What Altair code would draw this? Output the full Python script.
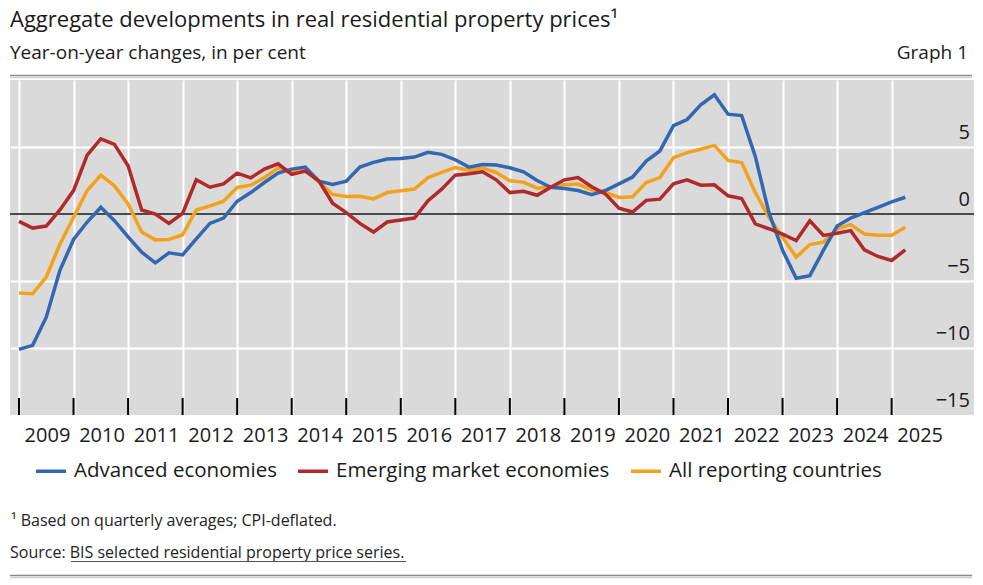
import altair as alt
import pandas as pd

# ---------------- data ----------------
first_year = 2009
series_names = ["Advanced economies", "Emerging market economies", "All reporting countries"]
series_colors = ["#3467b1", "#b0292b", "#f2a21d"]

advanced = [-10.1, -9.8, -7.7, -4.2, -1.9, -0.6, 0.5, -0.5, -1.7, -2.85, -3.65, -2.9, -3.05, -1.85,
            -0.7, -0.3, 0.95, 1.6, 2.35, 3.05, 3.35, 3.5, 2.45, 2.2, 2.45, 3.5, 3.85, 4.1, 4.15,
            4.25, 4.6, 4.45, 4.05, 3.5, 3.7, 3.65, 3.45, 3.15, 2.5, 2.0, 1.9, 1.75, 1.45, 1.75,
            2.25, 2.75, 3.95, 4.7, 6.6, 7.05, 8.15, 8.9, 7.45, 7.35, 4.3, 0.1, -2.7, -4.8, -4.6,
            -2.7, -0.9, -0.3, 0.1, 0.5, 0.9, 1.25]
emerging = [-0.55, -1.05, -0.9, 0.3, 1.75, 4.4, 5.6, 5.2, 3.6, 0.3, 0.0, -0.7, 0.05, 2.55,
            2.0, 2.25, 3.05, 2.7, 3.35, 3.75, 2.95, 3.2, 2.45, 0.8, 0.1, -0.7, -1.35, -0.6, -0.45,
            -0.3, 1.0, 1.85, 2.9, 3.0, 3.15, 2.55, 1.6, 1.7, 1.4, 2.0, 2.55, 2.72, 2.03, 1.5,
            0.44, 0.15, 1.02, 1.11, 2.25, 2.55, 2.15, 2.18, 1.36, 1.16, -0.74, -1.1, -1.5, -1.98,
            -0.5, -1.6, -1.44, -1.24, -2.67, -3.17, -3.47, -2.67]
all_reporting = [-5.9, -5.95, -4.7, -2.25, -0.25, 1.75, 2.9, 2.1, 0.75, -1.35, -1.93, -1.9, -1.55,
                 0.3, 0.6, 0.95, 1.98, 2.15, 2.72, 3.42, 3.2, 3.3, 2.4, 1.46, 1.3, 1.33, 1.13, 1.6,
                 1.73, 1.86, 2.72, 3.1, 3.47, 3.27, 3.42, 3.1, 2.48, 2.38, 1.93, 2.03, 2.18, 2.23,
                 1.8, 1.6, 1.24, 1.29, 2.35, 2.72, 4.2, 4.58, 4.83, 5.12, 4.0, 3.84, 1.6, -0.25,
                 -1.73, -3.22, -2.28, -2.1, -1.11, -0.79, -1.49, -1.58, -1.58, -0.99]

year_ticks = list(range(2009, 2026))
y_grid_values = [-10, -5, 5]
y_label_values = [5, 0, -5, -10, -15]
y_label_texts = ["5", "0", "\u22125", "\u221210", "\u221215"]

title_text = "Aggregate developments in real residential property prices\u00b9"
subtitle_text = "Year-on-year changes, in per cent"
graph_no = "Graph 1"
footnote_text = "\u00b9 Based on quarterly averages; CPI-deflated."
source_prefix = "Source: "
source_link = "BIS selected residential property price series."

# ---------------- build tables ----------------
quarter_pos = [first_year + i / 4 for i in range(len(advanced))]
rows = []
for name, vals in zip(series_names, [advanced, emerging, all_reporting]):
    for t, v in zip(quarter_pos, vals):
        rows.append({"t": t, "v": v, "series": name})
df = pd.DataFrame(rows)
df_years = pd.DataFrame({"t": year_ticks})
df_ylab = pd.DataFrame({"v": y_label_values, "lab": y_label_texts})
df_zero = pd.DataFrame({"v": [0]})
one = pd.DataFrame({"a": [0]})

W, H = 964, 335
FONT = "Open Sans"
TXT = "#1a1a1a"

x_scale = alt.Scale(domain=[2008.835, 2026.51], nice=False, zero=False)
y_scale = alt.Scale(domain=[-15, 10], nice=False, zero=False)

x_enc = alt.X("t:Q", scale=x_scale, axis=alt.Axis(
    values=year_ticks, format="d", grid=True, gridColor="white", gridWidth=2,
    ticks=False, tickSize=0, domain=False, labelOffset=28, labelPadding=10,
    labelFontSize=20, labelFont=FONT, labelColor=TXT, title=None,
    labelFlush=False, labelOverlap=False))
y_enc = alt.Y("v:Q", scale=y_scale, axis=alt.Axis(
    values=y_grid_values, grid=True, gridColor="white", gridWidth=2,
    labels=False, ticks=False, domain=False, title=None))

color_enc = alt.Color("series:N", scale=alt.Scale(domain=series_names, range=series_colors),
                      legend=alt.Legend(orient="none", legendX=24, legendY=374,
                                        direction="horizontal", title=None,
                                        symbolType="stroke", symbolSize=900,
                                        symbolStrokeWidth=3.5, labelFontSize=20.5,
                                        labelFont=FONT, labelColor=TXT, columnPadding=14,
                                        labelOffset=6, padding=0, labelLimit=400))

base = alt.Chart(df).encode(x=x_enc, y=y_enc, color=color_enc)

def line_for(name):
    return base.transform_filter(alt.datum.series == name).mark_line(strokeWidth=3.5)

zero = alt.Chart(df_zero).mark_rule(color="#4a4a4a", strokeWidth=2).encode(y=alt.Y("v:Q", scale=y_scale))
ticks = alt.Chart(df_years).mark_rule(color="black", strokeWidth=2).encode(
    x=alt.X("t:Q", scale=x_scale), y=alt.value(H - 17), y2=alt.value(H))
ylabels = alt.Chart(df_ylab).mark_text(align="right", baseline="alphabetic", dy=-8,
                                       fontSize=20, font=FONT, color=TXT).encode(
    y=alt.Y("v:Q", scale=y_scale), x=alt.value(960), text="lab:N")

def txt(s, x, y, size, align="left", color=TXT):
    return alt.Chart(one).mark_text(text=s, align=align, baseline="alphabetic",
                                    fontSize=size, font=FONT, color=color).encode(
        x=alt.value(x), y=alt.value(y))

def hline(x1, x2, y, color, w):
    return alt.Chart(one).mark_rule(color=color, strokeWidth=w).encode(
        x=alt.value(x1), x2=alt.value(x2), y=alt.value(y))

title = txt(title_text, 0, -53, 22)
subtitle = txt(subtitle_text, 0, -21, 19)
graph = txt(graph_no, 958, -21, 19, align="right")
foot = txt(footnote_text, 1, 446, 16, color="#222222")
source = txt(source_prefix + source_link, 0, 478, 16, color="#222222")
underline = hline(61, 396, 481.5, "#555555", 1)
top1 = hline(0, 962, -4.5, "#8a8a8a", 1.5)
top2 = hline(0, 962, -2.5, "#cfcfcf", 1.5)
bot1 = hline(0, 962, 495.5, "#8a8a8a", 1.5)
bot2 = hline(0, 962, 497.5, "#cfcfcf", 1.5)

chart = alt.layer(
    zero, ticks,
    line_for("All reporting countries"),
    line_for("Advanced economies"),
    line_for("Emerging market economies"),
    ylabels, title, subtitle, graph, foot, source, underline, top1, top2, bot1, bot2
).properties(
    width=W, height=H,
    padding={"left": 10, "top": 80, "right": 9, "bottom": 170},
    autosize=alt.AutoSizeParams(type="none"),
    background="white"
).configure_view(fill="#dadada", stroke=None)

chart.save("out.html", embed_options={"renderer": "svg", "actions": False})
